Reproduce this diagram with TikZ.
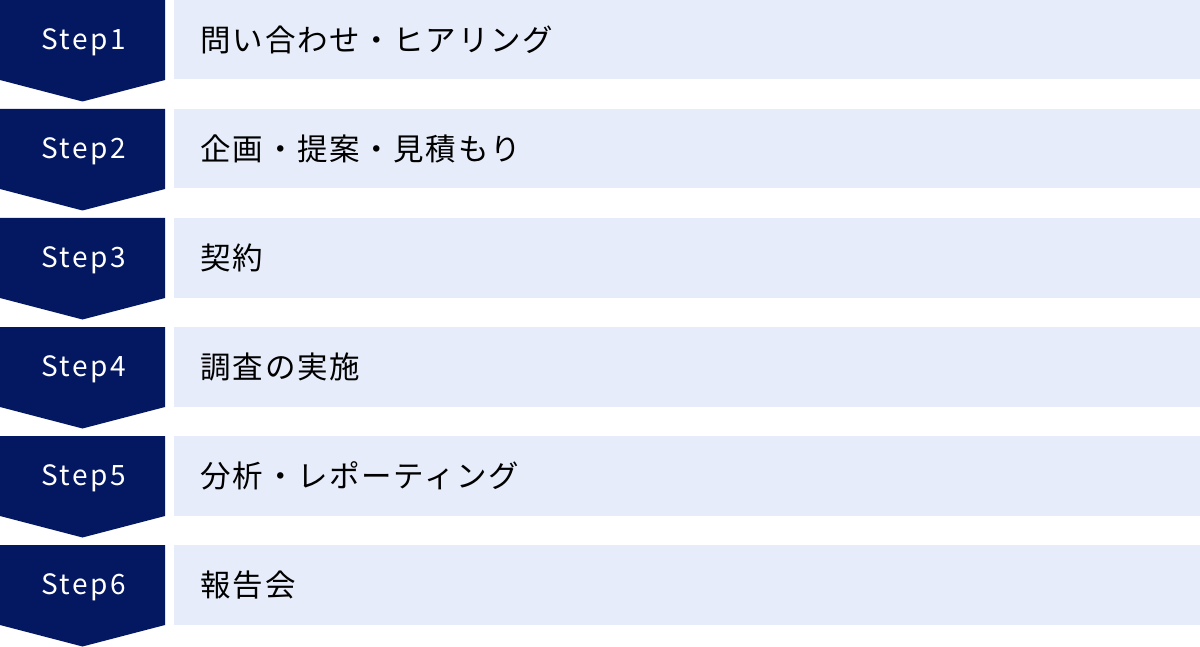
\documentclass[tikz,border=0pt]{standalone}
\usepackage{fontspec}
\setmainfont{Noto Sans CJK JP}
\newfontfamily\jpfont{Noto Sans CJK JP}
\definecolor{navy}{HTML}{041862}
\definecolor{pale}{HTML}{E6ECF9}
\begin{document}
\begin{tikzpicture}[x=1pt,y=-1pt,
  stepshape/.style={fill=navy,draw=none},
  barshape/.style={fill=pale,draw=none},
  steplabel/.style={text=white,font=\jpfont\fontsize{28}{28}\selectfont,anchor=center,inner sep=0},
  barlabel/.style={text=black,font=\jpfont\fontsize{30.5}{30.5}\selectfont,anchor=west,inner sep=0}]
\useasboundingbox (0,0) rectangle (1200,647);
\foreach \i/\t in {1/問い合わせ・ヒアリング,2/企画・提案・見積もり,3/契約,4/調査の実施,5/分析・レポーティング,6/報告会}{
  \pgfmathsetmacro{\yy}{(\i-1)*109}
  \fill[stepshape] (0,\yy) -- (165,\yy) -- (165,\yy+80) -- (82.5,\yy+101.5) -- (0,\yy+80) -- cycle;
  \fill[barshape] (174,\yy) rectangle (1200,\yy+79.5);
  \node[steplabel] (s\i) at (83.5,\yy+42) {\addfontfeature{LetterSpace=9}Step\i};
  \node[barlabel] (b\i) at (200.5,\yy+40) {\addfontfeature{LetterSpace=5.5}\t};
}
\end{tikzpicture}
\end{document}
